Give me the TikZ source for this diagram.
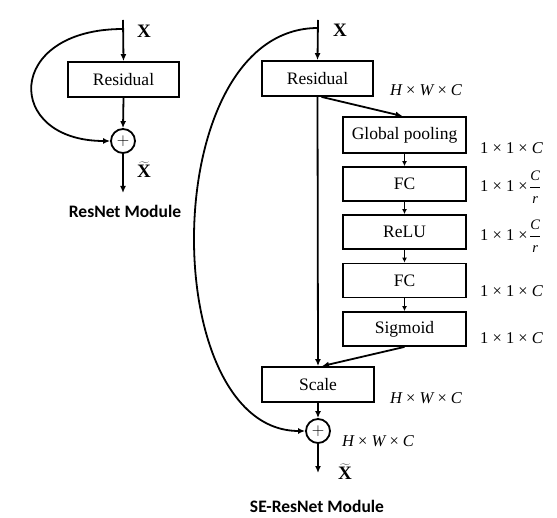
\documentclass[tikz,border=0pt]{standalone}
\usepackage{fontspec}
\setmainfont{Liberation Serif}
\newfontfamily\titlesans{Carlito}
\usetikzlibrary{arrows.meta}
\newcommand\cfrac[2]{{\nulldelimiterspace=0pt$\displaystyle\frac{\mbox{\fontsize{14.5}{15}\selectfont\itshape #1}}{\mbox{\fontsize{14.5}{15}\selectfont\itshape #2}}$}}
\begin{document}
\begin{tikzpicture}[x=1pt,y=-1pt,
  box/.style={draw, line width=1.8pt, minimum height=35pt, inner sep=0pt, font=\fontsize{17.5}{20}\selectfont},
  sumnode/.style={circle, draw, line width=1.8pt, minimum size=24pt, inner sep=0pt, font=\fontsize{18}{20}\selectfont},
  conn/.style={line width=1.8pt, -{Latex[length=7pt,width=6pt]}},
  sconn/.style={line width=1.8pt, -{Latex[length=5pt,width=5pt]}},
  lbl/.style={font=\fontsize{16.5}{18}\selectfont, anchor=west, inner sep=0pt},
  xlbl/.style={font=\bfseries\fontsize{19}{20}\selectfont, inner sep=0pt},
  title/.style={font=\titlesans\bfseries\fontsize{17.5}{20}\selectfont, inner sep=0pt}]
\useasboundingbox (0,0) rectangle (557,518);

% ---- ResNet module ----
\coordinate (lt) at (123,20);
\coordinate (ls) at (123,29);
\node[box, minimum width=111pt] (lres) at (123.5,79.5) {Residual};
\node[sumnode] (lsum) at (123,141) {$+$};
\coordinate (lend) at (123,193);
\node[xlbl] (lx) at (144,31) {X};
\node[xlbl] (lxt) at (144,170) {$\widetilde{\mbox{\bfseries X}}$};
\node[title] (ltitle) at (125,211) {ResNet Module};

\draw[conn] (lt) -- (lres.north);
\draw[conn] (lres.south) -- (lsum.north);
\draw[conn] (lsum.south) -- (lend);
\draw[conn] (ls) .. controls (4,29) and (4,141) .. (lsum.west);

% ---- SE-ResNet module ----
\coordinate (rt) at (318,20);
\coordinate (rs) at (318,28);
\node[box, minimum width=111pt] (rres) at (317.5,78.5) {Residual};
\node[box, minimum width=123pt, minimum height=36pt] (gp) at (404.5,135) {Global pooling};
\node[box, minimum width=123pt, minimum height=34pt] (fc1) at (404.5,184) {FC};
\node[box, minimum width=123pt, minimum height=34pt] (relu) at (404.5,232) {ReLU};
\node[box, minimum width=123pt, minimum height=34pt] (fc2) at (404.5,280.5) {FC};
\node[box, minimum width=123pt, minimum height=34pt] (sig) at (404.5,329) {Sigmoid};
\node[box, minimum width=112pt] (scale) at (318,384.5) {Scale};
\node[sumnode] (rsum) at (318,431) {$+$};
\coordinate (rend) at (318,473);

\node[xlbl] (rx) at (340,30) {X};
\node[xlbl] (rxt) at (345,472) {$\widetilde{\mbox{\bfseries X}}$};
\node[title] (rtitle) at (317,506) {SE-ResNet Module};

\node[lbl] (l1) at (390,90) {\itshape H \upshape× \itshape W \upshape× \itshape C};
\node[lbl] (l2) at (480,148) {1 × 1 × \itshape C};
\node[lbl] (l3) at (480,187) {1 × 1 ×\,\cfrac{C}{r}};
\node[lbl] (l4) at (480,236) {1 × 1 ×\,\cfrac{C}{r}};
\node[lbl] (l5) at (480,291) {1 × 1 × \itshape C};
\node[lbl] (l6) at (480,338) {1 × 1 × \itshape C};
\node[lbl] (l7) at (390,398) {\itshape H \upshape× \itshape W \upshape× \itshape C};
\node[lbl] (l8) at (342,441) {\itshape H \upshape× \itshape W \upshape× \itshape C};

\draw[conn] (rt) -- (rres.north);
\draw[conn] (rres.south) -- (scale.north);
\draw[conn] ([xshift=4pt]rres.south) -- ([xshift=-2pt]gp.north);
\draw[sconn] (gp.south) -- (fc1.north);
\draw[sconn] (fc1.south) -- (relu.north);
\draw[sconn] (relu.south) -- (fc2.north);
\draw[sconn] (fc2.south) -- (sig.north);
\draw[conn] (sig.south) -- ([xshift=4pt]scale.north);
\draw[conn] (scale.south) -- (rsum.north);
\draw[conn] (rsum.south) -- (rend);
\draw[conn] (rs) .. controls (156,28) and (156,431) .. (rsum.west);
\end{tikzpicture}
\end{document}
